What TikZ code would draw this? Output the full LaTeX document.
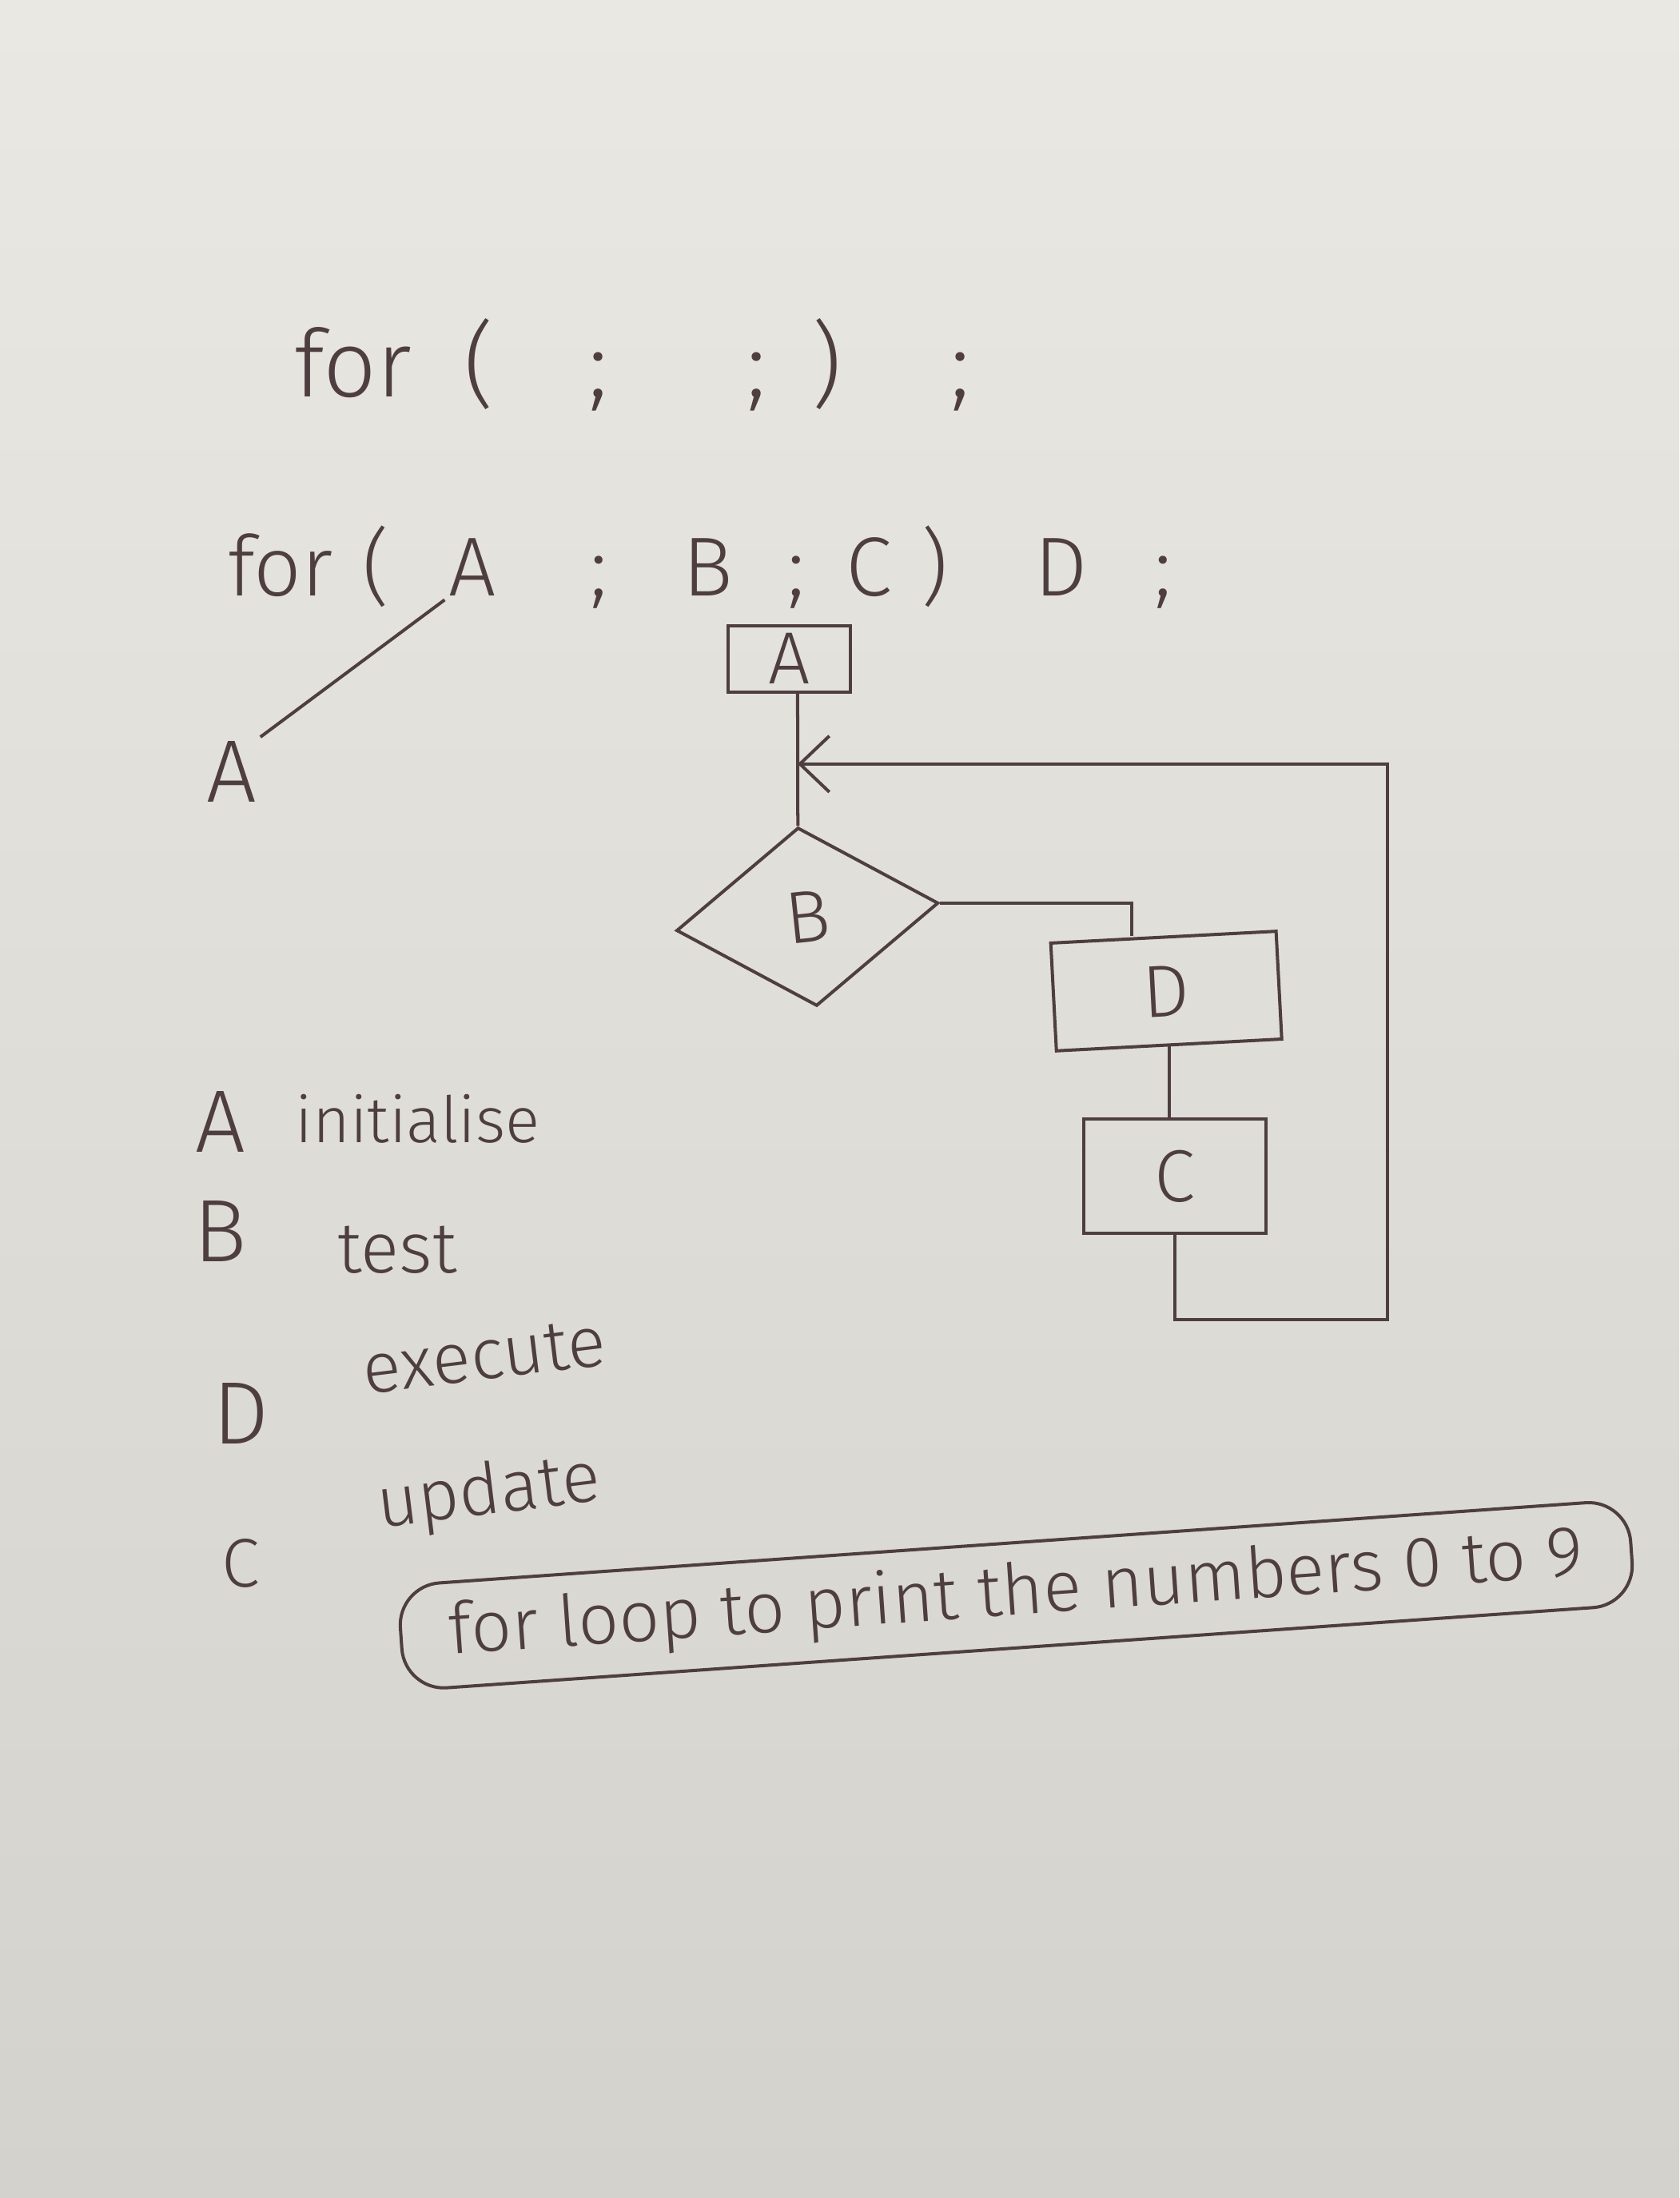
\documentclass[tikz,border=0pt]{standalone}
\usepackage{fontspec}
\setmainfont{Fira Sans}[UprightFont=* Light]
\usetikzlibrary{shapes.geometric,arrows.meta}

\definecolor{ink}{RGB}{78,62,64}
\definecolor{paper}{RGB}{233,232,227}
\definecolor{papershade}{RGB}{212,210,205}

\begin{document}
\begin{tikzpicture}[x=0.02cm, y=-0.02cm, line width=1.3pt, draw=ink, text=ink,
    tok/.style={anchor=base, inner sep=1pt, font=\fontsize{38}{38}\selectfont},
    tokb/.style={anchor=base, inner sep=1pt, font=\fontsize{34}{34}\selectfont},
    box/.style={draw, inner sep=0pt, font=\fontsize{30}{30}\selectfont},
    decide/.style={draw, diamond, inner sep=0pt, minimum width=3.76cm, minimum height=2.56cm, font=\fontsize{30}{30}\selectfont},
    key/.style={anchor=base, inner sep=1pt, font=\fontsize{36}{36}\selectfont},
    word/.style={anchor=base west, inner sep=1pt, font=\fontsize{29}{29}\selectfont},
    flow/.style={-{Straight Barb[length=0.42cm, width=0.8cm]}}]

    \shade[top color=paper, bottom color=papershade] (0,0) rectangle (1198,1568);
    \useasboundingbox (0,0) rectangle (1198,1568);

    % for( ; ; );
    \foreach \x/\t/\n in {252/for/f, 342/(/o, 427/;/s1, 540/;/s2, 590/)/c, 685/;/s3}
        \node[tok] (top-\n) at (\x,283) {\t};

    % for ( A ; B ; C) D;
    \foreach \x/\t/\n in {200/for/f, 268/(/o, 337/A/A, 427/;/s1, 505/B/B, 568/;/s2, 620/C/C, 667/)/c, 757/D/D, 830/;/s3}
        \node[tokb] (code-\n) at (\x,425) {\t};

    \node[key] (sideA) at (165,572) {A};
    \draw (code-A.south west) -- (sideA.north east);

    % flowchart
    \node[box, minimum width=1.74cm, minimum height=0.94cm] (A) at (563,470) {A};
    \node[decide, rotate=6] (B) at (576,654) {B};
    \node[box, rotate=3, minimum width=3.22cm, minimum height=1.54cm] (D) at (832,707) {D};
    \node[box, minimum width=2.6cm, minimum height=1.64cm] (C) at (838,839) {C};
    \coordinate (merge) at (569,545);
    \coordinate (back) at (990,545);

    \draw (A.south -| merge) -- (B.north);
    \draw (B.east) -| ([xshift=-0.45cm]D.north);
    \draw (D.south) -- (D.south |- C.north);
    \draw[flow] (C.south) -- ++(0,60) -| (back) -- (merge);

    % what the letters do
    \node[key] (kA) at (157,822) {A};
    \node[word, font=\fontsize{26}{26}\selectfont] (wA) at (208,815) {initialise};
    \node[key] (kB) at (157,900) {B};
    \node[word] (wB) at (238,908) {test};
    \node[key] (kD) at (172,1030) {D};
    \node[word, rotate=7] (wD) at (258,995) {execute};
    \node[key, font=\fontsize{28}{28}\selectfont] (kC) at (172,1132) {C};
    \node[word, rotate=7] (wC) at (268,1090) {update};

    \node[draw, rounded corners=0.6cm, rotate=4, minimum width=17.6cm, minimum height=1.5cm,
        font=\fontsize{29}{29}\selectfont] (note) at (725,1138) {for loop to print the numbers 0 to 9};
\end{tikzpicture}
\end{document}
